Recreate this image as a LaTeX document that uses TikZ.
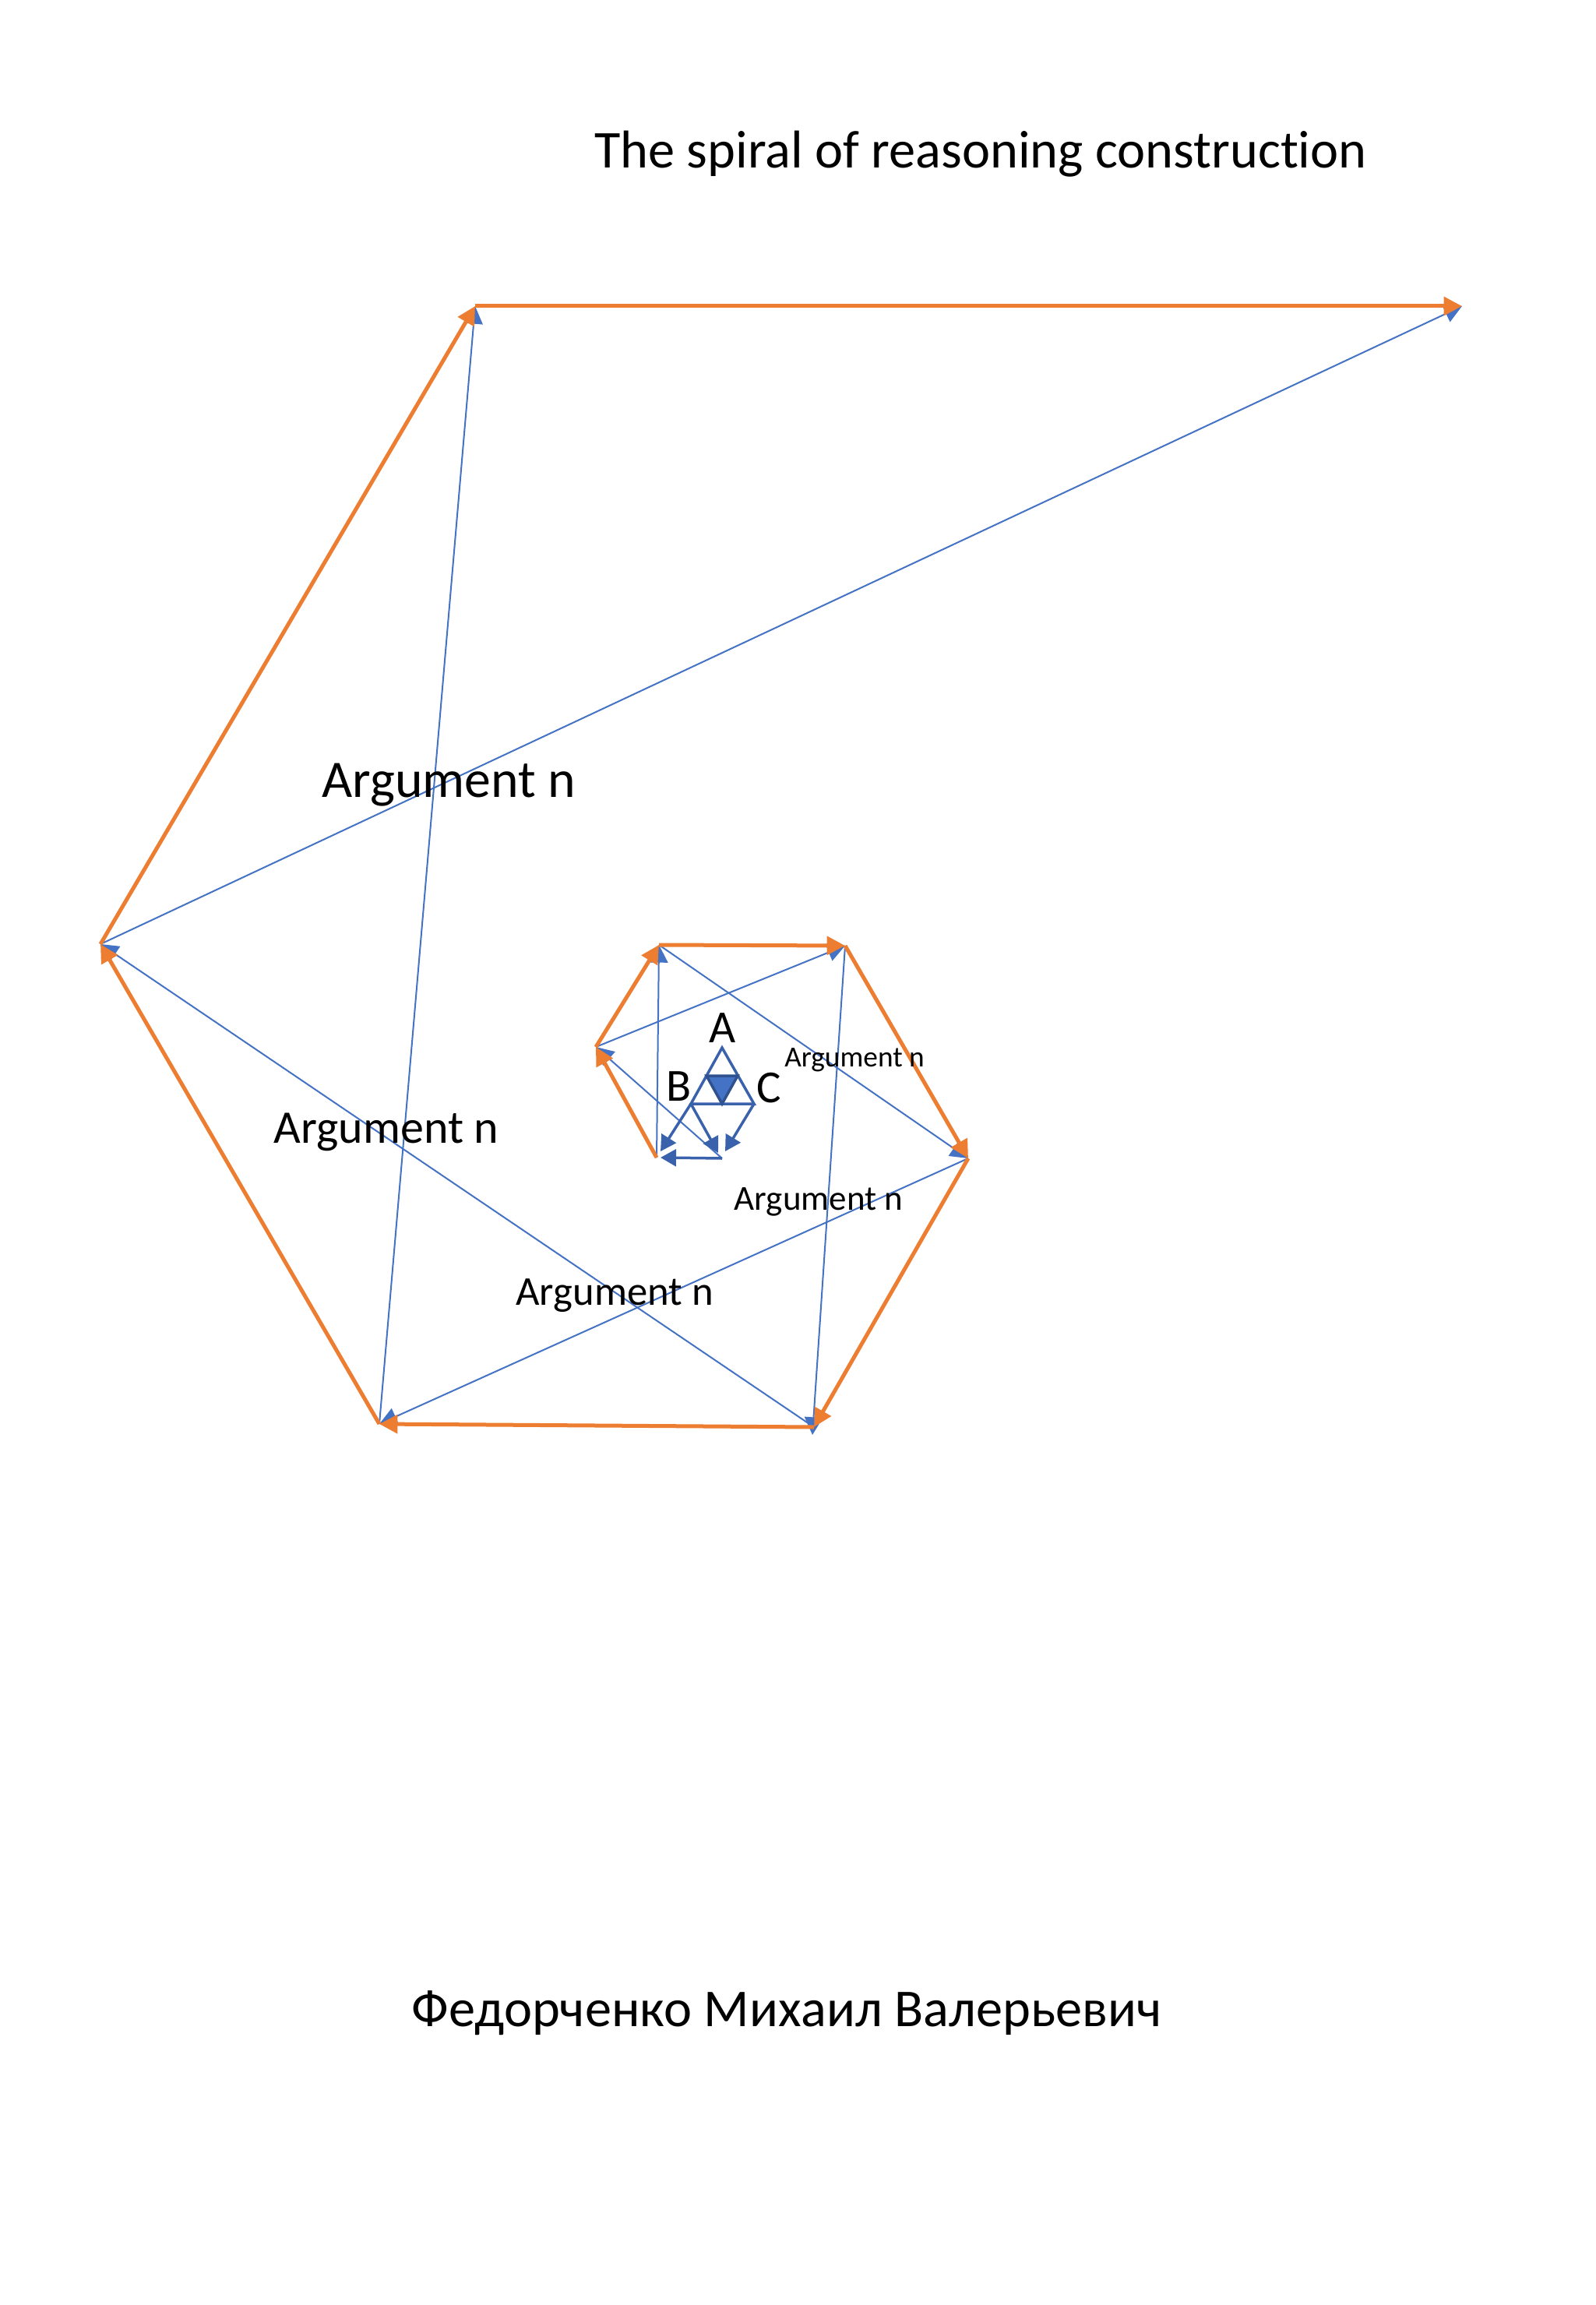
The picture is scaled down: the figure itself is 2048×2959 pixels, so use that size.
\documentclass[tikz,border=0pt]{standalone}
\usepackage{fontspec}
\setmainfont{Carlito}[Ligatures=NoCommon]
\usetikzlibrary{arrows.meta}
\definecolor{orangeC}{HTML}{ED7D31}
\definecolor{blueC}{HTML}{4472C4}
\definecolor{blueD}{HTML}{3A62AC}
\definecolor{blueO}{HTML}{2F528F}
\tikzset{
  orangearrow/.style={draw=orangeC, line width=1.5pt, -{Triangle[length=7pt,width=7pt]}},
  bluearrow/.style={draw=blueC, line width=0.6pt, -{Triangle[length=6.8pt,width=7pt]}},
  smallarrow/.style={draw=blueD, line width=1.05pt, -{Triangle[length=6pt,width=6.5pt]}},
  smallline/.style={draw=blueD, line width=1.05pt},
  txt/.style={anchor=base, inner sep=0pt, text=black},
}
\begin{document}
\begin{tikzpicture}[x=0.3pt,y=-0.3pt]
\useasboundingbox (0,0) rectangle (2048,2959);
% vertices of the spiral
\coordinate (R)   at (927,1487);
\coordinate (Q)   at (843,1486);
\coordinate (P0)  at (765,1344);
\coordinate (P1)  at (846,1213);
\coordinate (P2)  at (1085,1214);
\coordinate (P3)  at (1243,1487);
\coordinate (BR)  at (1045,1832);
\coordinate (BRb) at (1043,1842);
\coordinate (BL)  at (487,1828);
\coordinate (L)   at (129,1212);
\coordinate (T1)  at (610,393);
\coordinate (T2)  at (1877,393);
% small triangle structure
\coordinate (Ap) at (927,1345);
\coordinate (Bp) at (887,1417);
\coordinate (Cp) at (968,1417);
\coordinate (Mab) at (907,1381);
\coordinate (Mac) at (947,1381);
\coordinate (Mbc) at (927,1417);
\coordinate (tQ) at (848,1478);
\coordinate (tR1) at (922,1480);
\coordinate (tR2) at (931,1478);
\coordinate (tQh) at (848,1486);

% blue thin connectors
\draw[bluearrow] (R) -- (P0);
\draw[bluearrow] (Q) -- (P1);
\draw[bluearrow] (P0) -- (P2);
\draw[bluearrow] (P1) -- (P3);
\draw[bluearrow] (P2) -- (BRb);
\draw[bluearrow] (P3) -- (BL);
\draw[bluearrow] (BR) -- (L);
\draw[bluearrow] (BL) -- (T1);
\draw[bluearrow] (L) -- (T2);

% orange spiral
\draw[orangearrow] (Q) -- (P0);
\draw[orangearrow] (P0) -- (P1);
\draw[orangearrow] (P1) -- (P2);
\draw[orangearrow] (P2) -- (P3);
\draw[orangearrow] (P3) -- (BR);
\draw[orangearrow] (BR) -- (BL);
\draw[orangearrow] (BL) -- (L);
\draw[orangearrow] (L) -- (T1);
\draw[orangearrow] (T1) -- (T2);

% small structure
\draw[smallline, line join=miter] (Ap) -- (Bp) -- (Cp) -- cycle;
\draw[fill=blueC, draw=blueO, line width=1.05pt] (Mab) -- (Mac) -- (Mbc) -- cycle;
\draw[smallarrow] (Bp) -- (tQ);
\draw[smallarrow] (Bp) -- (tR1);
\draw[smallarrow] (Cp) -- (tR2);
\draw[smallarrow] (R) -- (tQh);

% texts
\node[txt, font=\fontsize{20.5}{24}\selectfont] (title) at (1259,216) {The spiral of reasoning construction};
\node[txt, font=\fontsize{20.3}{24}\selectfont] (arg1) at (576,1023) {Argument n};
\node[txt, font=\fontsize{18}{22}\selectfont] (arg2) at (496,1467) {Argument n};
\node[txt, font=\fontsize{15.8}{19}\selectfont] (arg3) at (789,1675) {Argument n};
\node[txt, font=\fontsize{13.5}{16}\selectfont] (arg4) at (1051,1553) {Argument n};
\node[txt, font=\fontsize{11.2}{14}\selectfont] (arg5) at (1097,1369) {Argument n};
\node[txt, font=\fontsize{17.7}{21}\selectfont] (lA) at (928,1338) {A};
\node[txt, font=\fontsize{17.7}{21}\selectfont] (lB) at (872,1413) {B};
\node[txt, font=\fontsize{17.7}{21}\selectfont] (lC) at (987,1415) {C};
\node[txt, font=\fontsize{20.5}{24}\selectfont] (author) at (1010,2601) {Федорченко Михаил Валерьевич};
\end{tikzpicture}
\end{document}
